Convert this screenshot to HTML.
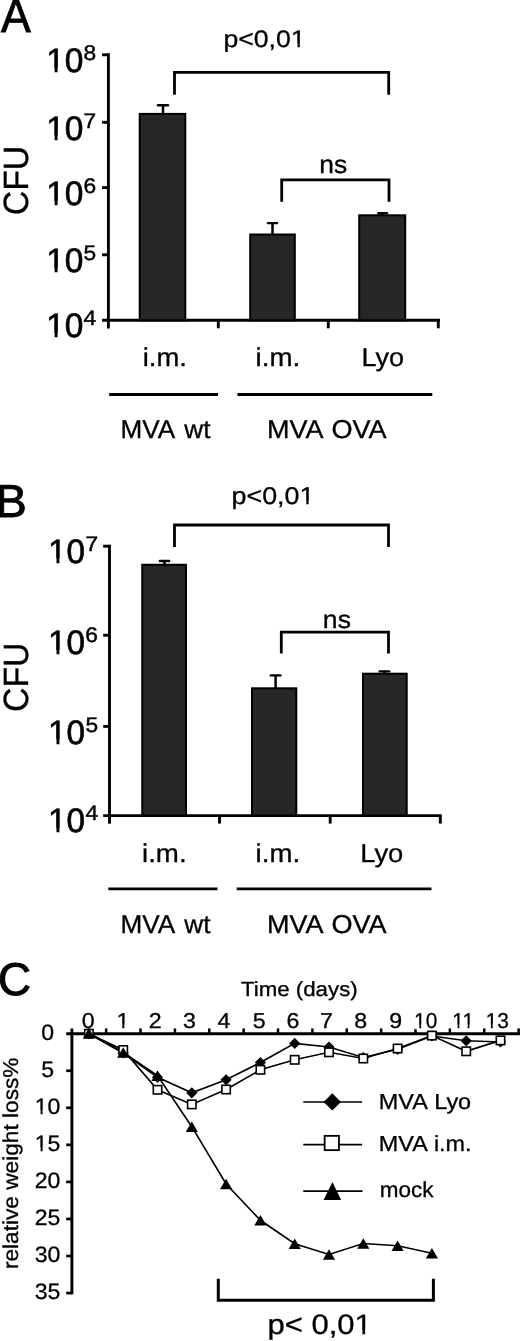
<!DOCTYPE html>
<html lang="en"><head><meta charset="utf-8"><title>Figure</title>
<style>html,body{margin:0;padding:0;background:#fff}svg{display:block}text{font-family:"Liberation Sans", Arial, sans-serif;fill:#000;text-rendering:geometricPrecision}</style></head><body>
<svg width="520" height="1341" viewBox="0 0 520 1341">
<rect width="520" height="1341" fill="#fff"/>
<text transform="translate(1.04,32.25) scale(0.9333,1)" font-size="47.71" stroke="#000" stroke-width="0.9">A</text>
<line x1="108.4" y1="53.35" x2="108.4" y2="328.5" stroke="#000" stroke-width="2.9" stroke-linecap="butt"/>
<line x1="102.1" y1="54.8" x2="108.4" y2="54.8" stroke="#000" stroke-width="2.9" stroke-linecap="butt"/>
<line x1="102.1" y1="122.3" x2="108.4" y2="122.3" stroke="#000" stroke-width="2.9" stroke-linecap="butt"/>
<line x1="102.1" y1="187.6" x2="108.4" y2="187.6" stroke="#000" stroke-width="2.9" stroke-linecap="butt"/>
<line x1="102.1" y1="254.8" x2="108.4" y2="254.8" stroke="#000" stroke-width="2.9" stroke-linecap="butt"/>
<line x1="102.1" y1="320.3" x2="439.95" y2="320.3" stroke="#000" stroke-width="2.9" stroke-linecap="butt"/>
<line x1="218.3" y1="320.3" x2="218.3" y2="328.3" stroke="#000" stroke-width="2.9" stroke-linecap="butt"/>
<line x1="328.3" y1="320.3" x2="328.3" y2="328.3" stroke="#000" stroke-width="2.9" stroke-linecap="butt"/>
<line x1="438.3" y1="320.3" x2="438.3" y2="328.3" stroke="#000" stroke-width="2.9" stroke-linecap="butt"/>
<g transform="translate(46.19,72.3) scale(0.9898,1)"><text font-size="33.83" stroke="#000" stroke-width="0.6">10</text>
<rect x="1.36" y="-4.03" width="7.15" height="5.63" fill="#fff"/>
<rect x="11.5" y="-4.03" width="6.86" height="5.63" fill="#fff"/>
</g>
<text transform="translate(83.49,60.37) scale(1.0700,1)" font-size="21.25" stroke="#000" stroke-width="0.45">8</text>
<g transform="translate(46.19,139.5) scale(0.9898,1)"><text font-size="33.83" stroke="#000" stroke-width="0.6">10</text>
<rect x="1.36" y="-4.03" width="7.15" height="5.63" fill="#fff"/>
<rect x="11.5" y="-4.03" width="6.86" height="5.63" fill="#fff"/>
</g>
<text transform="translate(83.49,127.58) scale(1.0700,1)" font-size="21.25" stroke="#000" stroke-width="0.45">7</text>
<g transform="translate(46.19,205.3) scale(0.9898,1)"><text font-size="33.83" stroke="#000" stroke-width="0.6">10</text>
<rect x="1.36" y="-4.03" width="7.15" height="5.63" fill="#fff"/>
<rect x="11.5" y="-4.03" width="6.86" height="5.63" fill="#fff"/>
</g>
<text transform="translate(83.41,193.38) scale(1.0700,1)" font-size="21.25" stroke="#000" stroke-width="0.45">6</text>
<g transform="translate(46.19,272.4) scale(0.9898,1)"><text font-size="33.83" stroke="#000" stroke-width="0.6">10</text>
<rect x="1.36" y="-4.03" width="7.15" height="5.63" fill="#fff"/>
<rect x="11.5" y="-4.03" width="6.86" height="5.63" fill="#fff"/>
</g>
<text transform="translate(83.49,260.47) scale(1.0700,1)" font-size="21.25" stroke="#000" stroke-width="0.45">5</text>
<g transform="translate(46.19,337.4) scale(0.9898,1)"><text font-size="33.83" stroke="#000" stroke-width="0.6">10</text>
<rect x="1.36" y="-4.03" width="7.15" height="5.63" fill="#fff"/>
<rect x="11.5" y="-4.03" width="6.86" height="5.63" fill="#fff"/>
</g>
<text transform="translate(83.55,325.47) scale(1.0700,1)" font-size="21.25" stroke="#000" stroke-width="0.45">4</text>
<rect x="139.7" y="113.9" width="45.6" height="206.4" fill="#272727" stroke="#000" stroke-width="2"/>
<rect x="250.2" y="234.5" width="44.6" height="85.8" fill="#272727" stroke="#000" stroke-width="2"/>
<rect x="359.2" y="215.3" width="46" height="105" fill="#272727" stroke="#000" stroke-width="2"/>
<line x1="163" y1="105.3" x2="163" y2="113.9" stroke="#000" stroke-width="2.5" stroke-linecap="butt"/>
<line x1="158" y1="105.3" x2="168" y2="105.3" stroke="#000" stroke-width="2.4" stroke-linecap="round"/>
<line x1="272.5" y1="223.1" x2="272.5" y2="234.5" stroke="#000" stroke-width="2.5" stroke-linecap="butt"/>
<line x1="267.9" y1="223.1" x2="277.1" y2="223.1" stroke="#000" stroke-width="2.4" stroke-linecap="round"/>
<line x1="382.7" y1="213.2" x2="382.7" y2="215.3" stroke="#000" stroke-width="2.5" stroke-linecap="butt"/>
<line x1="378.4" y1="213.2" x2="387" y2="213.2" stroke="#000" stroke-width="2.4" stroke-linecap="round"/>
<polyline points="174.5,94.7 174.5,72.4 388.7,72.4 388.7,94.7" fill="none" stroke="#000" stroke-width="2.8" stroke-linejoin="miter"/>
<polyline points="281.7,201.8 281.7,179.9 389,179.9 389,201.8" fill="none" stroke="#000" stroke-width="2.8" stroke-linejoin="miter"/>
<g transform="translate(223.42,46.85) scale(1.1121,1)"><text font-size="23.94" stroke="#000" stroke-width="0.3">p&lt;0,01</text>
<rect x="61.32" y="-3.29" width="5.28" height="4.89" fill="#fff"/>
<rect x="68.72" y="-3.29" width="5.08" height="4.89" fill="#fff"/>
</g>
<text transform="translate(319.26,172.75) scale(1.0534,1)" font-size="25.12" stroke="#000" stroke-width="0.3">ns</text>
<text transform="translate(142.7,365.95) scale(1.0635,1)" font-size="25.77" stroke="#000" stroke-width="0.3">i.m.</text>
<text transform="translate(255.58,366.05) scale(1.0742,1)" font-size="25.77" stroke="#000" stroke-width="0.3">i.m.</text>
<text transform="translate(361.52,366.05) scale(1.0475,1)" font-size="25.77" stroke="#000" stroke-width="0.3">Lyo</text>
<text transform="translate(0,438.25) scale(1.0147,1)" font-size="25.77" stroke="#000" stroke-width="0.3" xml:space="preserve"><tspan x="118.7">MVA </tspan><tspan x="181.68">wt</tspan></text>
<text transform="translate(0,438.25) scale(1.0502,1)" font-size="25.77" stroke="#000" stroke-width="0.3" xml:space="preserve"><tspan x="254.24">MVA </tspan><tspan x="315.63">OVA</tspan></text>
<line x1="109.2" y1="394.5" x2="218" y2="394.5" stroke="#000" stroke-width="2.8" stroke-linecap="butt"/>
<line x1="237.5" y1="394.5" x2="432.3" y2="394.5" stroke="#000" stroke-width="2.8" stroke-linecap="butt"/>
<text transform="rotate(-90) translate(-215.35,28.45) scale(0.9679,1)" font-size="35.05" stroke="#000" stroke-width="0.3">CFU</text>
<text transform="translate(-4.42,517.35) scale(1.0182,1)" font-size="46.11" stroke="#000" stroke-width="0.9">B</text>
<line x1="109.5" y1="544.75" x2="109.5" y2="823.8" stroke="#000" stroke-width="2.9" stroke-linecap="butt"/>
<line x1="103.2" y1="546.2" x2="109.5" y2="546.2" stroke="#000" stroke-width="2.9" stroke-linecap="butt"/>
<line x1="103.2" y1="635.2" x2="109.5" y2="635.2" stroke="#000" stroke-width="2.9" stroke-linecap="butt"/>
<line x1="103.2" y1="726.4" x2="109.5" y2="726.4" stroke="#000" stroke-width="2.9" stroke-linecap="butt"/>
<line x1="103.2" y1="815.6" x2="441.75" y2="815.6" stroke="#000" stroke-width="2.9" stroke-linecap="butt"/>
<line x1="219.5" y1="815.6" x2="219.5" y2="823.6" stroke="#000" stroke-width="2.9" stroke-linecap="butt"/>
<line x1="330.2" y1="815.6" x2="330.2" y2="823.6" stroke="#000" stroke-width="2.9" stroke-linecap="butt"/>
<line x1="440.3" y1="815.6" x2="440.3" y2="823.6" stroke="#000" stroke-width="2.9" stroke-linecap="butt"/>
<g transform="translate(48.1,562.5) scale(0.9838,1)"><text font-size="33.83" stroke="#000" stroke-width="0.6">10</text>
<rect x="1.35" y="-4.03" width="7.16" height="5.63" fill="#fff"/>
<rect x="11.5" y="-4.03" width="6.87" height="5.63" fill="#fff"/>
</g>
<text transform="translate(85.39,550.58) scale(1.0700,1)" font-size="21.25" stroke="#000" stroke-width="0.45">7</text>
<g transform="translate(48.1,654.1) scale(0.9838,1)"><text font-size="33.83" stroke="#000" stroke-width="0.6">10</text>
<rect x="1.35" y="-4.03" width="7.16" height="5.63" fill="#fff"/>
<rect x="11.5" y="-4.03" width="6.87" height="5.63" fill="#fff"/>
</g>
<text transform="translate(85.31,642.18) scale(1.0700,1)" font-size="21.25" stroke="#000" stroke-width="0.45">6</text>
<g transform="translate(48.1,743.6) scale(0.9838,1)"><text font-size="33.83" stroke="#000" stroke-width="0.6">10</text>
<rect x="1.35" y="-4.03" width="7.16" height="5.63" fill="#fff"/>
<rect x="11.5" y="-4.03" width="6.87" height="5.63" fill="#fff"/>
</g>
<text transform="translate(85.39,731.67) scale(1.0700,1)" font-size="21.25" stroke="#000" stroke-width="0.45">5</text>
<g transform="translate(48.1,832.4) scale(0.9838,1)"><text font-size="33.83" stroke="#000" stroke-width="0.6">10</text>
<rect x="1.35" y="-4.03" width="7.16" height="5.63" fill="#fff"/>
<rect x="11.5" y="-4.03" width="6.87" height="5.63" fill="#fff"/>
</g>
<text transform="translate(85.45,820.48) scale(1.0700,1)" font-size="21.25" stroke="#000" stroke-width="0.45">4</text>
<rect x="142.25" y="564.75" width="43.75" height="250.85" fill="#272727" stroke="#000" stroke-width="2"/>
<rect x="252" y="688.3" width="44.3" height="127.3" fill="#272727" stroke="#000" stroke-width="2"/>
<rect x="363" y="673.7" width="43.7" height="141.9" fill="#272727" stroke="#000" stroke-width="2"/>
<line x1="164.5" y1="561" x2="164.5" y2="564.75" stroke="#000" stroke-width="2.5" stroke-linecap="butt"/>
<line x1="159.9" y1="561" x2="169.1" y2="561" stroke="#000" stroke-width="2.4" stroke-linecap="round"/>
<line x1="275.6" y1="675.4" x2="275.6" y2="688.3" stroke="#000" stroke-width="2.5" stroke-linecap="butt"/>
<line x1="270.8" y1="675.4" x2="280.4" y2="675.4" stroke="#000" stroke-width="2.4" stroke-linecap="round"/>
<line x1="384.4" y1="671.4" x2="384.4" y2="673.7" stroke="#000" stroke-width="2.5" stroke-linecap="butt"/>
<line x1="379.6" y1="671.4" x2="389.2" y2="671.4" stroke="#000" stroke-width="2.4" stroke-linecap="round"/>
<polyline points="174.5,547 174.5,525 388.5,525 388.5,547" fill="none" stroke="#000" stroke-width="2.8" stroke-linejoin="miter"/>
<polyline points="281.3,653.5 281.3,632.2 388.5,632.2 388.5,653.5" fill="none" stroke="#000" stroke-width="2.8" stroke-linejoin="miter"/>
<g transform="translate(231.5,503.85) scale(1.1093,1)"><text font-size="24.23" stroke="#000" stroke-width="0.3">p&lt;0,01</text>
<rect x="62.07" y="-3.31" width="5.33" height="4.91" fill="#fff"/>
<rect x="69.55" y="-3.31" width="5.13" height="4.91" fill="#fff"/>
</g>
<text transform="translate(322.86,628.15) scale(1.0575,1)" font-size="25.12" stroke="#000" stroke-width="0.3">ns</text>
<text transform="translate(142.03,861.65) scale(1.0742,1)" font-size="25.77" stroke="#000" stroke-width="0.3">i.m.</text>
<text transform="translate(255.59,861.65) scale(1.0715,1)" font-size="25.77" stroke="#000" stroke-width="0.3">i.m.</text>
<text transform="translate(360.2,861.65) scale(1.0608,1)" font-size="25.77" stroke="#000" stroke-width="0.3">Lyo</text>
<text transform="translate(0,933.25) scale(1.0147,1)" font-size="25.77" stroke="#000" stroke-width="0.3" xml:space="preserve"><tspan x="118.7">MVA </tspan><tspan x="181.68">wt</tspan></text>
<text transform="translate(0,933.25) scale(1.0502,1)" font-size="25.77" stroke="#000" stroke-width="0.3" xml:space="preserve"><tspan x="254.24">MVA </tspan><tspan x="315.63">OVA</tspan></text>
<line x1="108.3" y1="888.8" x2="217.5" y2="888.8" stroke="#000" stroke-width="2.8" stroke-linecap="butt"/>
<line x1="236.7" y1="888.8" x2="431.5" y2="888.8" stroke="#000" stroke-width="2.8" stroke-linecap="butt"/>
<text transform="rotate(-90) translate(-712.04,28.45) scale(0.9650,1)" font-size="35.05" stroke="#000" stroke-width="0.3">CFU</text>
<text transform="translate(-2.09,994.6) scale(0.9958,1)" font-size="46.02" stroke="#000" stroke-width="1.0">C</text>
<line x1="71.9" y1="1028.5" x2="71.9" y2="1294.3" stroke="#000" stroke-width="2.9" stroke-linecap="butt"/>
<line x1="66.2" y1="1033.7" x2="520" y2="1033.7" stroke="#000" stroke-width="2.9" stroke-linecap="butt"/>
<line x1="66.2" y1="1070.75" x2="71.9" y2="1070.75" stroke="#000" stroke-width="2.7" stroke-linecap="butt"/>
<line x1="66.2" y1="1107.8" x2="71.9" y2="1107.8" stroke="#000" stroke-width="2.7" stroke-linecap="butt"/>
<line x1="66.2" y1="1144.85" x2="71.9" y2="1144.85" stroke="#000" stroke-width="2.7" stroke-linecap="butt"/>
<line x1="66.2" y1="1181.9" x2="71.9" y2="1181.9" stroke="#000" stroke-width="2.7" stroke-linecap="butt"/>
<line x1="66.2" y1="1218.95" x2="71.9" y2="1218.95" stroke="#000" stroke-width="2.7" stroke-linecap="butt"/>
<line x1="66.2" y1="1256" x2="71.9" y2="1256" stroke="#000" stroke-width="2.7" stroke-linecap="butt"/>
<line x1="66.2" y1="1293.05" x2="71.9" y2="1293.05" stroke="#000" stroke-width="2.7" stroke-linecap="butt"/>
<line x1="106.17" y1="1028.4" x2="106.17" y2="1033.7" stroke="#000" stroke-width="2.5" stroke-linecap="butt"/>
<line x1="140.54" y1="1028.4" x2="140.54" y2="1033.7" stroke="#000" stroke-width="2.5" stroke-linecap="butt"/>
<line x1="174.91" y1="1028.4" x2="174.91" y2="1033.7" stroke="#000" stroke-width="2.5" stroke-linecap="butt"/>
<line x1="209.28" y1="1028.4" x2="209.28" y2="1033.7" stroke="#000" stroke-width="2.5" stroke-linecap="butt"/>
<line x1="243.65" y1="1028.4" x2="243.65" y2="1033.7" stroke="#000" stroke-width="2.5" stroke-linecap="butt"/>
<line x1="278.02" y1="1028.4" x2="278.02" y2="1033.7" stroke="#000" stroke-width="2.5" stroke-linecap="butt"/>
<line x1="312.39" y1="1028.4" x2="312.39" y2="1033.7" stroke="#000" stroke-width="2.5" stroke-linecap="butt"/>
<line x1="346.76" y1="1028.4" x2="346.76" y2="1033.7" stroke="#000" stroke-width="2.5" stroke-linecap="butt"/>
<line x1="381.13" y1="1028.4" x2="381.13" y2="1033.7" stroke="#000" stroke-width="2.5" stroke-linecap="butt"/>
<line x1="415.5" y1="1028.4" x2="415.5" y2="1033.7" stroke="#000" stroke-width="2.5" stroke-linecap="butt"/>
<line x1="449.87" y1="1028.4" x2="449.87" y2="1033.7" stroke="#000" stroke-width="2.5" stroke-linecap="butt"/>
<line x1="484.24" y1="1028.4" x2="484.24" y2="1033.7" stroke="#000" stroke-width="2.5" stroke-linecap="butt"/>
<line x1="518.61" y1="1028.4" x2="518.61" y2="1033.7" stroke="#000" stroke-width="2.5" stroke-linecap="butt"/>
<text transform="translate(41.19,1039.55) scale(1.0300,1)" font-size="22.37" stroke="#000" stroke-width="0.3">0</text>
<text transform="translate(41.19,1076.6) scale(1.0300,1)" font-size="22.37" stroke="#000" stroke-width="0.3">5</text>
<g transform="translate(34.79,1113.65) scale(1.0300,1)"><text font-size="22.37" stroke="#000" stroke-width="0.3">10</text>
<rect x="0.53" y="-3.17" width="5.09" height="4.77" fill="#fff"/>
<rect x="7.6" y="-3.17" width="4.9" height="4.77" fill="#fff"/>
</g>
<g transform="translate(34.79,1150.7) scale(1.0300,1)"><text font-size="22.37" stroke="#000" stroke-width="0.3">15</text>
<rect x="0.53" y="-3.17" width="5.09" height="4.77" fill="#fff"/>
<rect x="7.6" y="-3.17" width="4.9" height="4.77" fill="#fff"/>
</g>
<text transform="translate(34.79,1187.75) scale(1.0300,1)" font-size="22.37" stroke="#000" stroke-width="0.3">20</text>
<text transform="translate(34.79,1224.8) scale(1.0300,1)" font-size="22.37" stroke="#000" stroke-width="0.3">25</text>
<text transform="translate(34.79,1261.85) scale(1.0300,1)" font-size="22.37" stroke="#000" stroke-width="0.3">30</text>
<text transform="translate(34.79,1298.9) scale(1.0300,1)" font-size="22.37" stroke="#000" stroke-width="0.3">35</text>
<text transform="translate(81.64,1027.65) scale(1.0800,1)" font-size="21.47" stroke="#000" stroke-width="0.3">0</text>
<g transform="translate(116.45,1027.65) scale(1.0800,1)"><text font-size="21.47" stroke="#000" stroke-width="0.3">1</text>
<rect x="0.52" y="-3.1" width="4.88" height="4.7" fill="#fff"/>
<rect x="7.3" y="-3.1" width="4.7" height="4.7" fill="#fff"/>
</g>
<text transform="translate(148.87,1027.65) scale(1.0800,1)" font-size="21.47" stroke="#000" stroke-width="0.3">2</text>
<text transform="translate(183.02,1027.65) scale(1.0800,1)" font-size="21.47" stroke="#000" stroke-width="0.3">3</text>
<text transform="translate(217.62,1027.65) scale(1.0800,1)" font-size="21.47" stroke="#000" stroke-width="0.3">4</text>
<text transform="translate(252.77,1027.65) scale(1.0800,1)" font-size="21.47" stroke="#000" stroke-width="0.3">5</text>
<text transform="translate(286.58,1027.65) scale(1.0800,1)" font-size="21.47" stroke="#000" stroke-width="0.3">6</text>
<text transform="translate(320.07,1027.65) scale(1.0800,1)" font-size="21.47" stroke="#000" stroke-width="0.3">7</text>
<text transform="translate(354.27,1027.65) scale(1.0800,1)" font-size="21.47" stroke="#000" stroke-width="0.3">8</text>
<text transform="translate(389.24,1027.65) scale(1.0800,1)" font-size="21.47" stroke="#000" stroke-width="0.3">9</text>
<g transform="translate(414.09,1027.65) scale(0.9700,1)"><text font-size="21.47" stroke="#000" stroke-width="0.3">10</text>
<rect x="0.39" y="-3.1" width="5" height="4.7" fill="#fff"/>
<rect x="7.3" y="-3.1" width="4.82" height="4.7" fill="#fff"/>
</g>
<g transform="translate(452.34,1027.65) scale(0.9700,1)"><text font-size="21.47" stroke="#000" stroke-width="0.3">11</text>
<rect x="0.39" y="-3.1" width="5" height="4.7" fill="#fff"/>
<rect x="7.3" y="-3.1" width="4.82" height="4.7" fill="#fff"/>
<rect x="10.74" y="-3.1" width="5" height="4.7" fill="#fff"/>
<rect x="17.64" y="-3.1" width="4.82" height="4.7" fill="#fff"/>
</g>
<g transform="translate(485.64,1027.65) scale(0.9700,1)"><text font-size="21.47" stroke="#000" stroke-width="0.3">13</text>
<rect x="0.39" y="-3.1" width="5" height="4.7" fill="#fff"/>
<rect x="7.3" y="-3.1" width="4.82" height="4.7" fill="#fff"/>
</g>
<text transform="translate(240.95,995.55) scale(1.0940,1)" font-size="20.36" stroke="#000" stroke-width="0.3">Time (days)</text>
<text transform="rotate(-90) translate(-1269.12,17.85) scale(1.0530,1)" font-size="21.52" stroke="#000" stroke-width="0.3">relative weight loss%</text>
<polyline points="88.9,1033.7 123.2,1053 157.5,1077.3 191.8,1092.8 226.1,1079.8 260.4,1062.5 294.7,1043.4 329,1047 363.3,1057.5 397.6,1049.3 431.9,1036 466.2,1040.8 500.5,1042" fill="none" stroke="#000" stroke-width="1.65" stroke-linejoin="miter"/>
<polyline points="88.9,1033.7 123.2,1050 157.5,1089.8 191.8,1104.4 226.1,1089.5 260.4,1069.8 294.7,1059.8 329,1052.3 363.3,1058.5 397.6,1048.5 431.9,1035.6 466.2,1051.3 500.5,1040.4" fill="none" stroke="#000" stroke-width="1.65" stroke-linejoin="miter"/>
<polyline points="88.9,1033.3 123.2,1052.5 157.5,1075.6 191.8,1126.7 226.1,1184 260.4,1220.25 294.7,1243.75 329,1254.5 363.3,1243.5 397.6,1245.8 431.9,1253.2" fill="none" stroke="#000" stroke-width="1.65" stroke-linejoin="miter"/>
<polygon points="83.3,1033.7 88.9,1028.1 94.5,1033.7 88.9,1039.3" fill="#000"/>
<polygon points="117.6,1053 123.2,1047.4 128.8,1053 123.2,1058.6" fill="#000"/>
<polygon points="151.9,1077.3 157.5,1071.7 163.1,1077.3 157.5,1082.9" fill="#000"/>
<polygon points="186.2,1092.8 191.8,1087.2 197.4,1092.8 191.8,1098.4" fill="#000"/>
<polygon points="220.5,1079.8 226.1,1074.2 231.7,1079.8 226.1,1085.4" fill="#000"/>
<polygon points="254.8,1062.5 260.4,1056.9 266,1062.5 260.4,1068.1" fill="#000"/>
<polygon points="289.1,1043.4 294.7,1037.8 300.3,1043.4 294.7,1049" fill="#000"/>
<polygon points="323.4,1047 329,1041.4 334.6,1047 329,1052.6" fill="#000"/>
<polygon points="357.7,1057.5 363.3,1051.9 368.9,1057.5 363.3,1063.1" fill="#000"/>
<polygon points="392,1049.3 397.6,1043.7 403.2,1049.3 397.6,1054.9" fill="#000"/>
<polygon points="426.3,1036 431.9,1030.4 437.5,1036 431.9,1041.6" fill="#000"/>
<polygon points="460.6,1040.8 466.2,1035.2 471.8,1040.8 466.2,1046.4" fill="#000"/>
<polygon points="494.9,1042 500.5,1036.4 506.1,1042 500.5,1047.6" fill="#000"/>
<rect x="84.7" y="1029.5" width="8.4" height="8.4" fill="#fff" stroke="#000" stroke-width="1.6"/>
<rect x="119" y="1045.8" width="8.4" height="8.4" fill="#fff" stroke="#000" stroke-width="1.6"/>
<rect x="153.3" y="1085.6" width="8.4" height="8.4" fill="#fff" stroke="#000" stroke-width="1.6"/>
<rect x="187.6" y="1100.2" width="8.4" height="8.4" fill="#fff" stroke="#000" stroke-width="1.6"/>
<rect x="221.9" y="1085.3" width="8.4" height="8.4" fill="#fff" stroke="#000" stroke-width="1.6"/>
<rect x="256.2" y="1065.6" width="8.4" height="8.4" fill="#fff" stroke="#000" stroke-width="1.6"/>
<rect x="290.5" y="1055.6" width="8.4" height="8.4" fill="#fff" stroke="#000" stroke-width="1.6"/>
<rect x="324.8" y="1048.1" width="8.4" height="8.4" fill="#fff" stroke="#000" stroke-width="1.6"/>
<rect x="359.1" y="1054.3" width="8.4" height="8.4" fill="#fff" stroke="#000" stroke-width="1.6"/>
<rect x="393.4" y="1044.3" width="8.4" height="8.4" fill="#fff" stroke="#000" stroke-width="1.6"/>
<rect x="427.7" y="1031.4" width="8.4" height="8.4" fill="#fff" stroke="#000" stroke-width="1.6"/>
<rect x="462" y="1047.1" width="8.4" height="8.4" fill="#fff" stroke="#000" stroke-width="1.6"/>
<rect x="496.3" y="1036.2" width="8.4" height="8.4" fill="#fff" stroke="#000" stroke-width="1.6"/>
<polygon points="82.8,1038.6 88.9,1028 95,1038.6" fill="#000"/>
<polygon points="117.1,1057.8 123.2,1047.2 129.3,1057.8" fill="#000"/>
<polygon points="151.4,1080.9 157.5,1070.3 163.6,1080.9" fill="#000"/>
<polygon points="185.7,1132 191.8,1121.4 197.9,1132" fill="#000"/>
<polygon points="220,1189.3 226.1,1178.7 232.2,1189.3" fill="#000"/>
<polygon points="254.3,1225.55 260.4,1214.95 266.5,1225.55" fill="#000"/>
<polygon points="288.6,1249.05 294.7,1238.45 300.8,1249.05" fill="#000"/>
<polygon points="322.9,1259.8 329,1249.2 335.1,1259.8" fill="#000"/>
<polygon points="357.2,1248.8 363.3,1238.2 369.4,1248.8" fill="#000"/>
<polygon points="391.5,1251.1 397.6,1240.5 403.7,1251.1" fill="#000"/>
<polygon points="425.8,1258.5 431.9,1247.9 438,1258.5" fill="#000"/>
<line x1="303.3" y1="1102" x2="362.1" y2="1102" stroke="#000" stroke-width="1.7" stroke-linecap="butt"/>
<polygon points="323.6,1101.9 332.3,1093.2 341,1101.9 332.3,1110.6" fill="#000"/>
<line x1="303.3" y1="1144.6" x2="362.1" y2="1144.6" stroke="#000" stroke-width="1.7" stroke-linecap="butt"/>
<rect x="324.65" y="1135.85" width="14.3" height="14.3" fill="#fff" stroke="#000" stroke-width="1.8"/>
<line x1="303.3" y1="1191.2" x2="362.5" y2="1191.2" stroke="#000" stroke-width="1.7" stroke-linecap="butt"/>
<polygon points="323.6,1200.1 332.4,1181.9 341.2,1200.1" fill="#000"/>
<text transform="translate(0,1108.55) scale(1.0782,1)" font-size="21.77" stroke="#000" stroke-width="0.3" xml:space="preserve"><tspan x="351.32">MVA </tspan><tspan x="402.71">Lyo</tspan></text>
<text transform="translate(0,1150.85) scale(1.0756,1)" font-size="21.77" stroke="#000" stroke-width="0.3" xml:space="preserve"><tspan x="352.24">MVA </tspan><tspan x="403.42">i.m.</tspan></text>
<text transform="translate(379.83,1197.35) scale(1.0346,1)" font-size="21.77" stroke="#000" stroke-width="0.3">mock</text>
<polyline points="218.3,1278.7 218.3,1300.2 433.4,1300.2 433.4,1278.7" fill="none" stroke="#000" stroke-width="3.0" stroke-linejoin="miter"/>
<g transform="translate(267.43,1333.55) scale(1.1020,1)"><text font-size="28.17" stroke="#000" stroke-width="0.3">p&lt; 0,01</text>
<rect x="80.15" y="-3.6" width="6.03" height="5.2" fill="#fff"/>
<rect x="88.67" y="-3.6" width="5.79" height="5.2" fill="#fff"/>
</g>
</svg></body></html>
